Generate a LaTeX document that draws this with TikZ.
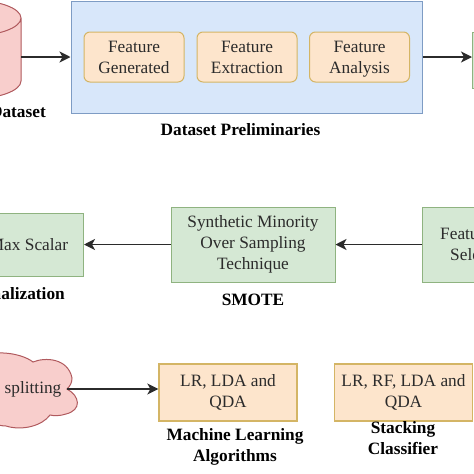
\documentclass[tikz,border=0pt]{standalone}
\usepackage{fontspec}
\setmainfont{Liberation Serif}
\usetikzlibrary{arrows.meta}
\definecolor{bluef}{HTML}{D8E7FA}\definecolor{blued}{HTML}{7E9CC4}
\definecolor{orf}{HTML}{FDE5CC}\definecolor{ord}{HTML}{D4B565}
\definecolor{grf}{HTML}{D5E8D4}\definecolor{grd}{HTML}{8FB380}
\definecolor{pkf}{HTML}{F8CECC}\definecolor{pkd}{HTML}{B05A5E}
\definecolor{ink}{HTML}{2B2B2B}
\tikzset{
 boxbase/.style={draw,line width=1pt,text=ink,align=center,inner sep=0pt,font=\fontsize{17.3}{21}\selectfont},
 roundbox/.style={boxbase,fill=orf,draw=ord,rounded corners=6pt,minimum width=100pt,minimum height=50pt},
 orangebox/.style={boxbase,fill=orf,draw=ord,line width=1.3pt,minimum width=138pt,minimum height=57pt},
 greenbox/.style={boxbase,fill=grf,draw=grd},
 caption/.style={font=\fontsize{17.3}{21}\selectfont\bfseries,text=black,align=center,inner sep=0pt},
 flow/.style={-{Stealth[length=11pt,width=11pt,inset=3pt]},line width=1.5pt,draw=ink}
}
\begin{document}
\begin{tikzpicture}[x=1pt,y=-1pt]
\useasboundingbox (0,0) rectangle (474,474);
% cylinder
\path[fill=pkf,draw=pkd,line width=1pt] (-81,18) -- (-81,81) arc[start angle=180,end angle=360,x radius=51,y radius=-18] -- (21,18) arc[start angle=0,end angle=180,x radius=51,y radius=-18] arc[start angle=180,end angle=360,x radius=51,y radius=-18];
\coordinate (db) at (21,57);
\node[caption,anchor=east] (dbl) at (46,112) {Dataset};
% preliminaries
\node[boxbase,fill=bluef,draw=blued,minimum width=351pt,minimum height=112pt] (prelim) at (246.5,57) {};
\node[roundbox] (fg) at (134,57) {Feature\\Generated};
\node[roundbox] (fe) at (247,57) {Feature\\Extraction};
\node[roundbox] (fa) at (359.5,57) {Feature\\\raisebox{0pt}[\height][0pt]{Analysis}};
\node[caption] (pl) at (240.5,130) {Dataset Preliminaries};
\node[greenbox,minimum width=60pt,minimum height=56pt,anchor=west] (next) at (472,60) {};
% row 2
\node[greenbox,minimum width=110pt,minimum height=63pt,anchor=east] (mm) at (84,244.5) {Max Scalar};
\node[caption,anchor=east] (mml) at (65,294) {Normalization};
\node[greenbox,minimum width=164pt,minimum height=75pt] (sm) at (253,244.5) {Synthetic Minority\\Over Sampling\\Technique};
\node[caption] (sml) at (253,300) {SMOTE};
\node[greenbox,minimum width=90pt,minimum height=75pt,anchor=west] (fs) at (422,244.5) {};
\node[anchor=west,align=left,inner sep=0pt,text=ink,font=\fontsize{17.3}{21}\selectfont] (fst) at (440,244) {Feature\\\hspace{10pt}Selection};
% row 3
\path[fill=pkf] (-5,353) .. controls (15,352) and (28,358) .. (33,362)
 .. controls (45,357) and (68,358) .. (72,378)
 .. controls (72,383) and (70,386) .. (67,389)
 .. controls (80,396) and (82,410) .. (66,414)
 .. controls (60,416) and (54,416) .. (50,415)
 .. controls (42,426) and (22,431) .. (6,426)
 .. controls (2,426) and (-2,425) .. (-5,424) -- cycle;
\draw[pkd,line width=1pt] (-5,353) .. controls (15,352) and (28,358) .. (33,362)
 .. controls (45,357) and (68,358) .. (72,378)
 .. controls (72,383) and (70,386) .. (67,389)
 .. controls (80,396) and (82,410) .. (66,414)
 .. controls (60,416) and (54,416) .. (50,415)
 .. controls (42,426) and (22,431) .. (6,426)
 .. controls (2,426) and (-2,425) .. (-5,424);
\node[text=ink,inner sep=5pt,font=\fontsize{17.3}{21}\selectfont] (cl) at (33,389) {splitting};
\node[orangebox] (ml) at (228,392.5) {LR, LDA and\\QDA};
\node[caption] (mll) at (235,446.5) {Machine Learning\\Algorithms};
\node[orangebox] (st) at (403.5,392.5) {LR, RF, LDA and\\QDA};
\node[caption] (stl) at (403,438.5) {Stacking\\Classifier};
% connectors
\draw[flow] (db) -- (db -| prelim.west);
\draw[flow] (prelim.east) -- (next.west |- prelim.east);
\draw[flow] (fs.west) -- (sm.east);
\draw[flow] (sm.west) -- (mm.east);
\draw[flow] (cl.east) -- (cl.east -| ml.west);
\end{tikzpicture}
\end{document}
